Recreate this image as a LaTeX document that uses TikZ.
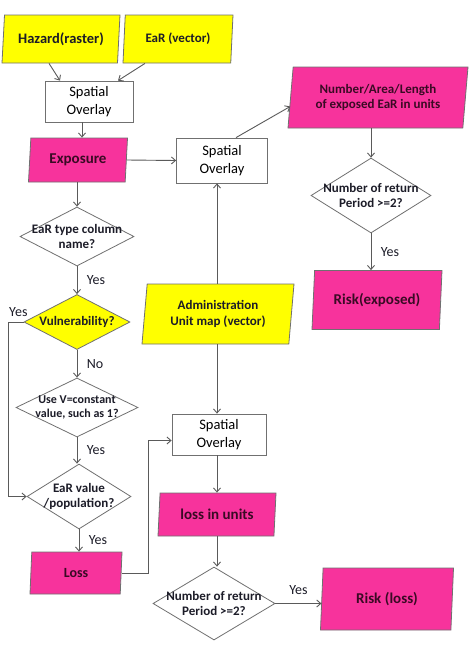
\documentclass[tikz,border=0pt]{standalone}
\usepackage{fontspec}
\setmainfont{Carlito}
\usetikzlibrary{shapes.geometric,arrows.meta}
\definecolor{hotpink}{HTML}{F7339C}
\definecolor{ylw}{HTML}{FFFF00}
\definecolor{pinktext}{HTML}{3A0A24}
\definecolor{ylwtext}{HTML}{1C1C28}
\definecolor{linegray}{HTML}{5A5A5A}
\definecolor{edgegray}{HTML}{707070}
\tikzset{
  para/.style={trapezium, trapezium left angle=79, trapezium right angle=101,
    trapezium stretches body, draw=edgegray, line width=0.8pt, inner sep=0pt,
    align=center, font=\bfseries\fontsize{13}{15.5}\selectfont},
  ypara/.style={para, fill=ylw, text=ylwtext},
  ppara/.style={para, fill=hotpink, text=pinktext},
  bigfont/.style={font=\bfseries\fontsize{15}{17}\selectfont},
  obox/.style={rectangle, draw=edgegray, line width=0.8pt, fill=white, align=center,
    inner sep=0pt, font=\fontsize{14.5}{18}\selectfont},
  dia/.style={diamond, draw=edgegray, line width=0.8pt, inner sep=0pt, fill=white},
  dlab/.style={align=center, inner sep=0pt, text=ylwtext, font=\bfseries\fontsize{13}{15.5}\selectfont},
  arr/.style={draw=linegray, line width=0.9pt, -{Straight Barb[length=4pt,width=7pt]}},
  lbl/.style={font=\fontsize{14}{16}\selectfont, text=ylwtext}
}
\begin{document}
\begin{tikzpicture}[x=1pt,y=-1pt]
\useasboundingbox[fill=white] (0,0) rectangle (474,651);

% top inputs
\node[ypara, minimum width=118pt, minimum height=48pt, font=\bfseries\fontsize{14.5}{17}\selectfont] (haz) at (61,39) {Hazard(raster)};
\node[ypara, minimum width=110pt, minimum height=48pt] (ear) at (178,39) {EaR (vector)};
\node[obox, minimum width=88pt, minimum height=41pt] (so1) at (89,101.5) {Spatial\\Overlay};
\node[ppara, minimum width=99pt, minimum height=44pt, bigfont] (expo) at (78,160) {Exposure};
\node[obox, minimum width=91pt, minimum height=45pt] (so2) at (222,160.5) {Spatial\\Overlay};
\node[ppara, minimum width=180pt, minimum height=61pt] (nal) at (378,97.5) {Number/Area/Length\\of exposed EaR in units};
\node[dia, minimum width=120pt, minimum height=75pt] (d1) at (371,195.5) {};
\node[dlab] (d1t) at (d1) {Number of return\\Period >=2?};
\node[ppara, minimum width=130pt, minimum height=59pt, bigfont] (riskexp) at (377,300) {Risk(exposed)};

% left column
\node[dia, minimum width=114pt, minimum height=59pt] (dtype) at (77,236.5) {};
\node[dlab] (dtypet) at (dtype) {EaR type column\\name?};
\node[dia, fill=ylw, minimum width=106pt, minimum height=55pt] (vuln) at (77,322) {};
\node[dlab] (vulnt) at (vuln) {Vulnerability?};
\node[dia, minimum width=122pt, minimum height=59pt] (dconst) at (77,407.5) {};
\node[dlab, font=\bfseries\fontsize{12}{14.5}\selectfont] (dconstt) at (dconst) {Use V=constant\\value, such as 1?};
\node[dia, minimum width=104pt, minimum height=65pt] (dpop) at (79,496.5) {};
\node[dlab] (dpopt) at (dpop) {EaR value\\/population?};
\node[ppara, minimum width=92pt, minimum height=42pt, font=\bfseries\fontsize{14}{16}\selectfont] (loss) at (76,573) {Loss};

% middle column
\node[ypara, minimum width=152pt, minimum height=60pt] (admin) at (218,314) {Administration\\Unit map (vector)};
\node[obox, minimum width=94pt, minimum height=41pt] (so3) at (219,434.5) {Spatial\\Overlay};
\node[ppara, minimum width=118pt, minimum height=43pt, bigfont] (lossu) at (217,514.5) {loss in units};
\node[dia, minimum width=122pt, minimum height=73pt] (d2) at (214,603.5) {};
\node[dlab] (d2t) at (d2) {Number of return\\Period >=2?};
\node[ppara, minimum width=133pt, minimum height=62pt, bigfont] (riskloss) at (387,599) {Risk (loss)};

% connectors
\draw[arr] ([xshift=-12pt]haz.south) -- ([xshift=-29pt]so1.north);
\draw[arr] ([xshift=-33pt]ear.south) -- ([xshift=29pt]so1.north);
\draw[arr] ([xshift=-7pt]so1.south) -- ([xshift=-7pt]so1.south |- expo.north);
\draw[arr] (expo.east) -- (so2.west);
\draw[arr] ([xshift=14pt]so2.north) -- ([yshift=-9pt]nal.west);
\draw[arr] (d1.north |- nal.south) -- (d1.north);
\draw[arr] (d1.south) -- node[lbl, right=6pt] {Yes} (d1.south |- riskexp.north);

\draw[arr] (dtype.north |- expo.south) -- (dtype.north);
\draw[arr] (dtype.south) -- node[lbl, right=6pt] {Yes} (vuln.north);
\draw[arr] (vuln.south) -- node[lbl, right=6pt] {No} (dconst.north);
\draw[arr] (dconst.south) -- node[lbl, right=6pt] {Yes} (dconst.south |- dpop.north);
\draw[arr] (dpop.south) -- node[lbl, right=6pt] {Yes} (dpop.south |- loss.north);
\draw[arr] (vuln.west) -- node[lbl, pos=0.35, above=2pt] {Yes} ++(-15,0) |- (dpop.west);
\draw[arr] (loss.east) -- ++(27,0) |- ([yshift=-6pt]so3.west);

\draw[arr] ([xshift=-1pt]admin.north) -- ([xshift=-1pt]admin.north |- so2.south);
\draw[arr] ([xshift=-1pt]admin.south) -- ([xshift=-1pt]admin.south |- so3.north);
\draw[arr] ([xshift=-2pt]so3.south) -- ([xshift=-2pt]so3.south |- lossu.north);
\draw[arr] (lossu.south) -- (lossu.south |- d2.north);
\draw[arr] (d2.east) -- node[lbl, above=5pt] {Yes} (d2.east -| riskloss.west);
\end{tikzpicture}
\end{document}
